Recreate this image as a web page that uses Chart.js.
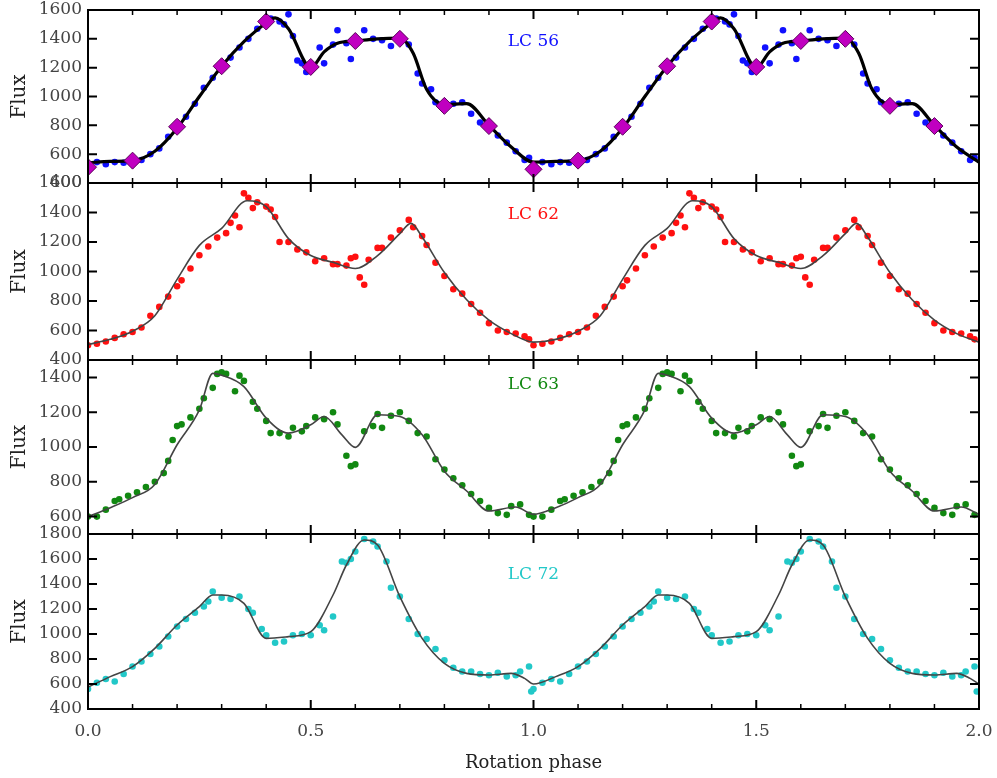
<!DOCTYPE html>
<html>
<head>
<meta charset="utf-8">
<script src="https://cdn.jsdelivr.net/npm/chart.js@4.4.0/dist/chart.umd.min.js"></script>
<style>
  body { margin:0; background:#fff; }
  #wrap { position:relative; width:997px; height:778px; }
  canvas { position:absolute; left:0; }
</style>
</head>
<body>
<div id="wrap"></div>
<script>
// ── Data (one rotation cycle, phase 0..1; the plot shows it folded twice) ──
const xTicks     = [0, 0.5, 1.0, 1.5, 2.0];
const xMinor     = [0.1,0.2,0.3,0.4,0.6,0.7,0.8,0.9,1.1,1.2,1.3,1.4,1.6,1.7,1.8,1.9];

// LC 56
const lc56Phase = [0.00,0.02,0.04,0.06,0.08,0.10,0.12,0.14,0.16,0.18,0.20,0.22,0.24,0.26,0.28,0.30,0.32,0.34,0.36,0.38,0.40,0.41,0.43,0.44,0.45,0.46,0.47,0.48,0.49,0.50,0.52,0.53,0.55,0.56,0.58,0.59,0.60,0.62,0.64,0.66,0.68,0.70,0.72,0.74,0.75,0.77,0.78,0.80,0.82,0.84,0.86,0.88,0.90,0.92,0.94,0.96,0.98,0.99];
const lc56Flux  = [520,545,530,545,540,560,560,600,640,720,770,860,950,1060,1130,1200,1270,1340,1400,1470,1500,1540,1520,1500,1570,1420,1250,1230,1170,1180,1340,1230,1360,1460,1370,1260,1390,1460,1400,1390,1350,1410,1360,1160,1090,1050,960,920,950,960,880,820,790,730,680,620,560,575];
const lc56FitPhase = [0,0.05,0.1,0.15,0.2,0.25,0.3,0.35,0.4,0.42,0.45,0.5,0.53,0.56,0.6,0.65,0.7,0.73,0.76,0.8,0.85,0.9,0.95,1.0];
const lc56Fit      = [540,550,555,620,780,1000,1210,1380,1510,1545,1470,1200,1310,1370,1385,1400,1405,1300,1050,945,950,800,650,545];
const lc56MapPhase = [0,0.1,0.2,0.3,0.4,0.5,0.6,0.7,0.8,0.9,1.0,1.1,1.2,1.3,1.4,1.5,1.6,1.7,1.8,1.9];
const lc56Map      = [510,555,790,1210,1520,1205,1385,1400,935,795,495,555,790,1210,1520,1205,1385,1400,935,795];

// LC 62
const lc62Phase = [0.00,0.02,0.04,0.06,0.08,0.10,0.12,0.14,0.16,0.18,0.20,0.21,0.23,0.25,0.27,0.29,0.31,0.32,0.33,0.34,0.35,0.36,0.37,0.38,0.40,0.41,0.42,0.43,0.45,0.47,0.49,0.51,0.53,0.55,0.56,0.58,0.59,0.60,0.61,0.62,0.63,0.65,0.66,0.68,0.70,0.72,0.73,0.75,0.76,0.78,0.80,0.82,0.84,0.86,0.88,0.90,0.92,0.94,0.96,0.98,0.99];
const lc62Flux  = [500,510,525,550,575,590,620,700,760,830,900,940,1020,1110,1170,1230,1260,1330,1380,1300,1530,1500,1430,1470,1440,1420,1370,1200,1200,1150,1130,1070,1090,1050,1050,1040,1090,1100,960,910,1080,1160,1160,1230,1280,1350,1300,1240,1180,1060,970,880,850,780,720,650,600,590,580,560,540];
const lc62FitPhase = [0,0.05,0.1,0.15,0.2,0.25,0.3,0.357,0.4,0.45,0.5,0.55,0.6,0.65,0.7,0.725,0.75,0.8,0.85,0.9,0.95,1.0];
const lc62Fit      = [505,540,595,700,947,1177,1292,1480,1440,1223,1108,1062,1020,1108,1257,1326,1234,993,808,670,579,521];

// LC 63
const lc63Phase = [0.00,0.02,0.04,0.06,0.07,0.09,0.11,0.13,0.15,0.17,0.18,0.19,0.20,0.21,0.23,0.25,0.26,0.28,0.29,0.30,0.31,0.33,0.34,0.35,0.37,0.38,0.40,0.41,0.43,0.45,0.46,0.48,0.49,0.51,0.53,0.55,0.56,0.58,0.59,0.60,0.62,0.64,0.65,0.66,0.68,0.70,0.72,0.74,0.76,0.78,0.80,0.82,0.84,0.86,0.88,0.90,0.92,0.94,0.95,0.97,0.99];
const lc63Flux  = [600,600,640,690,700,720,740,770,800,850,920,1040,1120,1130,1170,1220,1280,1340,1420,1430,1420,1320,1410,1380,1260,1220,1150,1080,1080,1060,1110,1090,1120,1170,1160,1200,1130,950,890,900,1090,1120,1190,1110,1180,1200,1150,1080,1060,930,870,820,780,730,690,650,620,610,660,670,610];
const lc63FitPhase = [0,0.05,0.1,0.15,0.2,0.25,0.28,0.3,0.35,0.4,0.45,0.5,0.53,0.57,0.6,0.65,0.7,0.75,0.8,0.85,0.9,0.96,1.0];
const lc63Fit      = [600,651,709,785,1013,1213,1423,1413,1347,1166,1080,1128,1175,1070,998,1185,1175,1070,861,747,632,655,613];

// LC 72
const lc72Phase = [0.00,0.02,0.04,0.06,0.08,0.10,0.12,0.14,0.16,0.18,0.20,0.22,0.24,0.26,0.27,0.28,0.30,0.32,0.34,0.36,0.37,0.39,0.40,0.42,0.44,0.46,0.48,0.50,0.52,0.53,0.55,0.57,0.58,0.59,0.60,0.62,0.64,0.65,0.67,0.68,0.70,0.72,0.74,0.76,0.78,0.80,0.82,0.84,0.86,0.88,0.90,0.92,0.94,0.96,0.97,0.99,0.995];
const lc72Flux  = [560,610,640,620,680,740,780,840,900,980,1060,1120,1170,1220,1260,1340,1290,1280,1300,1200,1170,1040,990,930,940,990,1000,990,1070,1030,1140,1580,1570,1600,1660,1760,1740,1700,1580,1370,1300,1120,1000,960,880,790,730,700,700,680,670,690,660,670,700,740,540];
const lc72FitPhase = [0,0.05,0.1,0.15,0.2,0.25,0.28,0.3,0.35,0.4,0.45,0.5,0.55,0.58,0.62,0.65,0.7,0.75,0.8,0.85,0.9,0.95,0.98,1.0];
const lc72Fit      = [575,659,739,885,1072,1219,1312,1312,1245,965,979,1019,1312,1552,1752,1712,1299,965,765,685,672,685,645,600];

// ── Helpers ──
const fold = (ph, fl) => ph.map((p,i)=>({x:p, y:fl[i]})).concat(ph.map((p,i)=>({x:p+1, y:fl[i]})));
const foldFit = (ph, fl) => ph.map((p,i)=>({x:p, y:fl[i]})).concat(ph.slice(1).map((p,i)=>({x:p+1, y:fl[i+1]})));
const pairs = (ph, fl) => ph.map((p,i)=>({x:p, y:fl[i]}));

const FONT = '"DejaVu Serif", "Liberation Serif", serif';
const LEFT = 88, RIGHT = 979, W = 997;

const panels = [
  { label:'LC 56', color:'#1010ff', top:10,  bottom:183, min:400, max:1600, ticks:[400,600,800,1000,1200,1400,1600],
    pts: fold(lc56Phase, lc56Flux), fit: foldFit(lc56FitPhase, lc56Fit), fitColor:'#000', fitW:3.2,
    map: pairs(lc56MapPhase, lc56Map), lx:1.0, ly:0.18 },
  { label:'LC 62', color:'#ff1010', top:183, bottom:360, min:400, max:1600, ticks:[400,600,800,1000,1200,1400,1600],
    pts: fold(lc62Phase, lc62Flux), fit: foldFit(lc62FitPhase, lc62Fit), fitColor:'#444', fitW:1.6, lx:1.0, ly:0.18 },
  { label:'LC 63', color:'#118811', top:360, bottom:534, min:500, max:1500, ticks:[600,800,1000,1200,1400],
    pts: fold(lc63Phase, lc63Flux), fit: foldFit(lc63FitPhase, lc63Fit), fitColor:'#444', fitW:1.6, lx:1.0, ly:0.14 },
  { label:'LC 72', color:'#22c8c8', top:534, bottom:709, min:400, max:1800, ticks:[400,600,800,1000,1200,1400,1600,1800],
    pts: fold(lc72Phase, lc72Flux), fit: foldFit(lc72FitPhase, lc72Fit), fitColor:'#444', fitW:1.6, lx:1.0, ly:0.23, last:true },
];

const framePlugin = {
  id:'frame',
  afterDraw(chart) {
    const { ctx, chartArea:a, scales:{x, y} } = chart;
    const p = chart.options.plugins.frame;
    ctx.save();
    ctx.strokeStyle = '#000';
    ctx.lineWidth = 2;
    ctx.strokeRect(a.left, a.top, a.right - a.left, a.bottom - a.top);
    ctx.beginPath();
    xTicks.forEach(v => {
      const px = x.getPixelForValue(v);
      ctx.moveTo(px, a.top); ctx.lineTo(px, a.top + 9);
      ctx.moveTo(px, a.bottom); ctx.lineTo(px, a.bottom - 9);
    });
    ctx.stroke();
    ctx.lineWidth = 1.5;
    ctx.beginPath();
    xMinor.forEach(v => {
      const px = x.getPixelForValue(v);
      ctx.moveTo(px, a.top); ctx.lineTo(px, a.top + 5);
      ctx.moveTo(px, a.bottom); ctx.lineTo(px, a.bottom - 5);
    });
    ctx.stroke();
    ctx.lineWidth = 2;
    ctx.beginPath();
    y.ticks.forEach(t => {
      const py = y.getPixelForValue(t.value);
      if (py <= a.top + 1 || py >= a.bottom - 1) return;
      ctx.moveTo(a.left, py); ctx.lineTo(a.left + 9, py);
      ctx.moveTo(a.right, py); ctx.lineTo(a.right - 9, py);
    });
    ctx.stroke();
    // panel label
    ctx.fillStyle = p.color;
    ctx.font = '17px ' + FONT;
    ctx.textAlign = 'center';
    ctx.textBaseline = 'middle';
    ctx.fillText(p.label, x.getPixelForValue(p.lx), a.top + p.ly * (a.bottom - a.top));
    // y title
    ctx.fillStyle = '#222';
    ctx.font = '20px ' + FONT;
    ctx.translate(20, (a.top + a.bottom) / 2);
    ctx.rotate(-Math.PI / 2);
    ctx.fillText('Flux', 0, 0);
    ctx.restore();
  }
};

const wrap = document.getElementById('wrap');
panels.forEach(p => {
  const padTop = 12;
  const canvasTop = p.top - padTop;
  const xH = p.last ? 778 - p.bottom : 0;
  const padBottom = p.last ? 0 : 12;
  const height = (p.bottom - p.top) + padTop + padBottom + xH;
  const c = document.createElement('canvas');
  c.style.top = canvasTop + 'px';
  c.style.width = W + 'px'; c.style.height = height + 'px';
  c.width = W; c.height = height;
  wrap.appendChild(c);

  const datasets = [
    { type:'scatter', data:p.pts, backgroundColor:p.color, borderColor:p.color,
      pointRadius:3.3, pointBorderWidth:0, order:3 },
    { type:'line', data:p.fit, borderColor:p.fitColor, borderWidth:p.fitW,
      pointRadius:0, tension:0.4, cubicInterpolationMode:'monotone', order:2 },
  ];
  if (p.map) datasets.push({ type:'scatter', data:p.map, pointStyle:'rectRot',
      pointRadius:8.5, backgroundColor:'#c000c0', borderColor:'#5a005a', borderWidth:1, order:1 });

  new Chart(c, {
    type:'scatter',
    data:{ datasets },
    options:{
      responsive:false, animation:false, devicePixelRatio:1,
      layout:{ padding:{ top:padTop, bottom:padBottom, left:0, right:W - RIGHT } },
      plugins:{ legend:{display:false}, tooltip:{enabled:false},
                frame:{ label:p.label, color:p.color, lx:p.lx, ly:p.ly } },
      scales:{
        x:{ type:'linear', min:0, max:2, display:!!p.last,
            grid:{ display:false, drawTicks:false }, border:{ display:false },
            afterBuildTicks: s => { s.ticks = xTicks.map(v => ({ value:v })); },
            afterFit: s => { if (p.last) s.height = xH; s.paddingLeft = 0; s.paddingRight = 0; },
            ticks:{ padding:12, color:'#444', font:{ family:FONT, size:17 }, maxRotation:0,
                    callback: v => Number(v).toFixed(1) },
            title:{ display:true, text:'Rotation phase', color:'#222',
                    font:{ family:FONT, size:18 }, padding:{ top:4, bottom:4 } } },
        y:{ min:p.min, max:p.max,
            grid:{ display:false, drawTicks:false }, border:{ display:false },
            afterBuildTicks: s => { s.ticks = p.ticks.map(v => ({ value:v })); },
            afterFit: s => { s.width = LEFT; s.paddingTop = 0; s.paddingBottom = 0; },
            ticks:{ padding:6, color:'#444', font:{ family:FONT, size:17 },
                    callback: v => String(v) } }
      }
    },
    plugins:[framePlugin]
  });
});
</script>
</body>
</html>
